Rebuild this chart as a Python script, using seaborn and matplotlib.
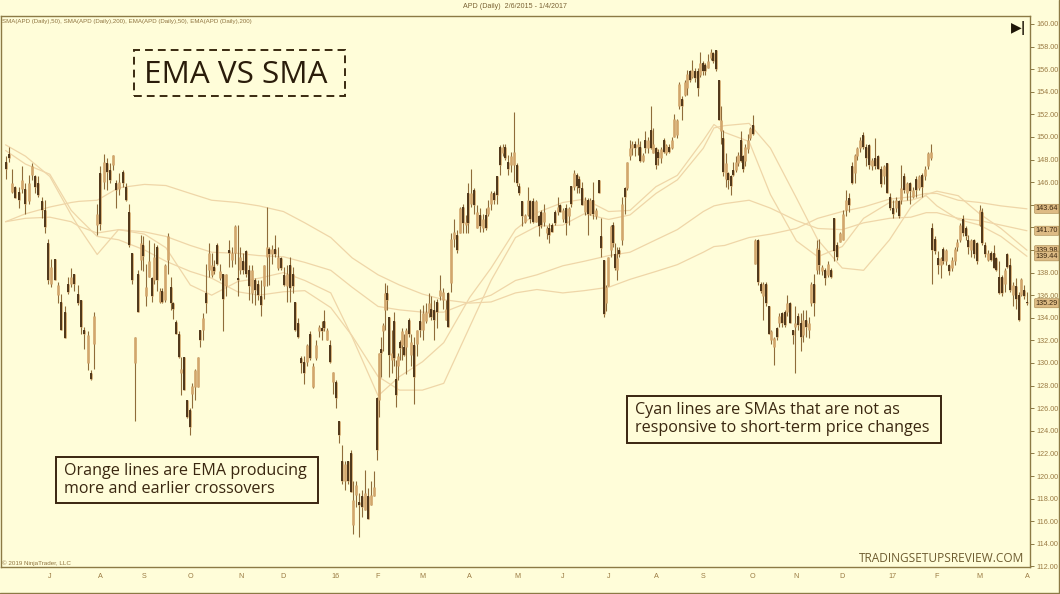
"""APD daily candles with EMA and SMA overlays."""

import matplotlib

matplotlib.use("Agg")

import matplotlib.dates as mdates
import matplotlib.pyplot as plt
import numpy as np
import pandas as pd
import seaborn as sns
from matplotlib.lines import Line2D
from matplotlib.patches import Rectangle

# candles
bar_high = [
    148.3,149.1,147.2,145.7,145.6,147.4,145.9,146.6,147.7,146.6, 146.5,144.7,144.4,141.0,139.2,139.2,137.2,136.1,135.0,137.6,
    138.4,137.9,136.9,135.6,133.2,132.8,129.4,134.5,144.1,147.4, 148.5,148.1,147.7,148.4,146.2,146.8,147.1,145.9,144.1,139.7,
    132.3,138.2,141.3,141.2,138.8,140.9,137.6,140.6,140.4,136.6, 136.6,138.8,141.5,137.6,135.4,133.8,132.8,130.5,130.5,126.7,
    126.0,128.2,129.5,130.5,132.9,134.4,138.8,140.6,
    139.7,139.1,140.6,138.8,137.9,137.9,140.9,140.3,142.2,142.2, 140.3,139.7,140.0,138.7,138.7,137.5,137.3,137.3,138.7,143.8,
    140.3,140.4,141.3,140.3,139.4,138.5,138.7,139.4,138.5,135.4, 134.0,130.6,130.6,131.7,132.8,130.0,132.0,133.4,133.7,134.7,
    133.1,132.0,129.2,128.5,124.9,122.7,121.3,121.3,122.3,119.6, 119.6,118.5,118.8,120.5,118.9,119.6,120.4,127.0,130.9,132.3,
    133.5,137.1,136.9,134.1,132.9,134.5,130.3,130.9,132.0,133.1, 132.6,133.1,134.0,
    132.6,132.3,132.9,134.8,135.1,135.3,136.2,135.9,135.6,135.7, 137.8,136.6,135.6,136.3,141.5,142.7,141.8,143.8,144.1,143.1,
    145.9,147.2,145.5,144.0,143.7,143.2,143.7,144.4,145.2,145.2, 146.5,149.3,149.4,149.4,148.4,148.7,152.2,147.7,145.9,144.3,
    143.2,145.6,144.4,144.6,144.4,143.1,143.5,144.1,142.1,142.4, 142.4,143.5,144.7,144.1,143.7,144.1,143.8,145.7,147.1,146.8,
    146.5,146.0,144.7,144.6,144.6,146.0,143.7,146.2,142.8,139.1, 136.9,139.4,142.2,142.5,140.6,140.3,140.3,
    144.7,145.6,147.8,149.7,149.6,149.6,149.9,149.6,148.6,150.5, 150.0,152.7,150.8,149.1,148.9,149.1,149.9,149.4,149.4,150.0,
    152.0,151.6,154.9,153.6,155.0,155.9,155.9,156.8,156.1,156.1, 157.5,156.7,156.5,157.3,157.8,157.5,157.7,155.0,152.7,150.6,
    148.6,146.9,146.6,147.8,148.3,148.7,150.5,148.4,149.4,150.3, 150.9,151.9,141.0,141.0,137.2,137.2,137.2,135.0,132.9,132.3,
    133.2,134.4,134.5,134.7,136.0,135.4,132.9,135.0,134.4,134.4, 134.7,134.7,134.1,137.2,137.9,140.9,141.0,
    138.7,138.4,139.0,138.4,142.8,140.7,141.6,143.5,145.3,145.0, 147.8,148.5,149.1,150.0,150.4,149.4,149.4,148.1,149.9,148.4,
    147.4,147.5,147.7,145.0,144.4,144.7,144.4,147.5,146.8,146.0, 146.0,145.6,146.5,146.6,146.8,147.4,148.7,149.4,142.4,141.2,
    139.9,139.4,140.3,140.1,138.8,139.4,140.3,141.0,142.4,143.1, 142.1,141.3,141.0,141.0,140.7,144.0,143.7,140.7,140.0,139.9,
    140.4,139.4,139.0,137.8,138.4,139.7,139.3,137.2,137.5,136.3, 137.5,136.9,136.3,
]
bar_low = [
    146.3,147.8,145.0,144.6,143.7,145.0,143.2,144.1,146.2,145.0, 144.7,142.8,141.5,137.0,136.7,137.3,135.3,132.9,132.2,136.1,
    136.7,136.4,135.1,132.6,131.2,129.4,128.5,129.5,141.3,141.8, 145.4,145.3,145.9,147.1,143.7,144.9,145.6,144.3,140.3,137.0,
    124.9,134.5,138.2,138.1,135.0,137.6,135.4,137.0,136.4,135.3, 135.3,135.4,137.9,134.7,133.9,132.6,130.4,127.2,127.6,125.1,
    123.6,126.0,126.7,127.9,131.4,132.0,134.4,137.6,
    137.6,137.9,138.7,137.3,132.8,135.9,138.5,138.5,138.8,135.9, 137.9,137.9,137.6,135.6,135.3,135.1,135.6,134.2,135.7,136.8,
    136.9,138.8,139.4,138.2,138.2,136.8,135.4,135.4,136.2,132.8, 132.2,129.1,128.1,129.7,130.3,127.8,130.3,132.3,132.0,132.8,
    132.0,130.0,127.3,126.0,122.9,119.3,118.8,119.3,118.6,114.9, 117.3,114.6,116.4,117.0,116.2,117.4,118.2,121.4,125.2,128.8,
    131.1,132.9,134.7,128.8,129.1,129.7,126.1,128.5,130.3,130.3, 130.6,129.0,132.3,
    129.7,126.4,130.6,132.3,132.0,133.5,134.1,133.8,132.0,133.1, 135.6,134.8,133.8,133.2,136.3,140.3,139.7,141.5,141.5,141.5,
    141.5,143.8,143.2,141.9,141.6,141.6,141.8,143.0,143.5,144.1, 144.1,146.6,148.3,148.0,146.6,146.9,146.0,145.7,144.9,142.1,
    142.4,143.0,142.4,142.4,142.5,141.2,141.9,142.1,141.0,140.6, 141.6,142.2,143.1,143.4,142.5,141.3,142.2,143.8,145.3,145.0,
    145.0,144.0,143.1,141.3,143.1,142.7,142.7,145.0,139.4,134.1, 134.6,136.8,139.4,140.3,138.2,137.3,139.4,
    140.4,143.2,145.3,148.0,148.4,148.3,148.4,147.8,147.8,148.6, 148.6,148.9,148.6,147.2,147.5,147.7,148.6,148.4,148.6,148.9,
    150.0,149.9,152.5,151.5,153.6,153.7,154.9,155.2,154.9,153.6, 155.3,155.5,155.5,156.1,156.8,156.5,155.8,151.5,149.4,146.5,
    145.6,145.4,144.9,146.5,146.9,147.4,147.8,146.9,147.4,148.6, 149.7,150.2,138.8,136.9,136.2,133.8,135.0,132.6,131.7,129.8,
    132.0,133.2,133.2,133.2,134.2,133.5,131.7,129.1,132.9,131.1, 131.9,132.3,132.2,135.0,134.2,137.9,137.9,
    137.8,136.9,137.6,137.5,139.0,139.1,140.7,140.9,143.0,143.4, 145.8,145.9,148.0,148.7,148.9,147.4,147.2,147.1,147.2,147.2,
    145.6,145.8,145.0,143.5,142.8,143.4,142.8,144.1,145.0,144.4, 144.1,144.6,144.7,145.3,144.7,146.2,147.2,148.0,137.0,139.6,
    137.9,137.5,138.8,138.7,137.8,138.1,138.7,139.9,140.7,141.2, 140.9,139.6,139.4,139.3,138.8,142.1,140.4,139.4,139.0,139.0,
    138.4,138.1,136.1,135.9,136.3,138.4,136.3,135.0,134.8,133.7, 135.9,135.7,135.1,
]
body_top = [
    147.8,148.5,145.9,145.6,145.1,146.2,145.4,145.9,147.4,146.5, 145.9,144.3,143.5,140.6,138.5,139.2,136.9,135.4,134.5,137.0,
    137.6,137.9,136.1,135.6,132.9,132.5,129.1,134.2,143.2,146.8, 147.8,147.7,147.1,148.4,145.9,146.0,146.9,145.6,143.4,139.7,
    132.3,137.9,140.6,140.4,136.7,139.0,137.5,139.4,140.3,136.4, 136.4,138.7,141.2,136.7,135.3,133.6,132.6,129.5,130.5,126.7,
    125.8,128.0,129.4,130.5,132.9,134.0,136.2,139.7,
    138.7,138.5,140.4,138.1,137.9,137.9,140.0,139.7,142.1,137.5, 139.4,139.0,139.9,138.2,138.2,137.3,137.0,135.9,138.7,140.3,
    140.1,140.1,140.1,139.4,139.3,137.8,137.9,138.7,137.9,135.4, 133.5,130.4,130.1,131.6,132.6,129.7,131.6,133.2,133.1,133.7,
    132.9,131.6,129.2,128.3,124.9,121.3,121.1,121.3,122.0,117.9, 119.2,117.7,118.2,118.5,118.2,118.3,119.0,126.9,130.9,131.2,
    133.4,136.2,136.2,134.1,130.9,133.7,128.6,130.6,131.9,132.8, 131.4,132.9,133.8,
    131.9,131.6,132.9,133.7,134.4,134.5,135.3,134.8,134.7,135.4, 136.5,136.3,134.8,136.2,141.0,141.6,141.3,143.7,143.8,142.5,
    145.0,145.0,145.3,143.4,143.1,142.7,143.1,143.8,145.0,145.0, 146.5,149.1,149.1,149.1,147.8,148.3,148.7,147.5,145.7,144.3,
    143.1,144.4,144.3,144.3,144.3,143.0,143.4,143.4,141.9,141.9, 142.2,143.4,143.8,144.0,143.5,143.7,143.7,145.7,146.8,146.6,
    146.3,145.5,144.4,144.4,144.4,144.4,143.5,146.2,141.2,139.1, 136.7,139.4,142.1,142.2,139.6,139.3,140.0,
    144.1,145.5,147.8,149.0,149.4,149.4,149.4,149.1,148.4,149.7, 149.7,150.6,149.4,149.0,148.7,148.9,149.7,149.3,149.1,149.7,
    151.6,151.5,154.7,153.4,154.9,155.6,155.8,155.9,155.8,155.8, 156.5,156.5,156.4,156.7,157.5,157.4,157.7,155.0,151.5,149.9,
    147.7,146.8,146.5,147.1,147.8,148.4,149.7,148.3,149.1,149.7, 150.8,151.1,140.9,140.9,137.0,137.0,137.0,135.0,132.8,132.2,
    133.1,134.2,134.4,134.5,135.3,135.3,132.9,133.5,134.2,133.5, 133.8,133.8,133.5,137.0,137.0,140.2,140.0,
    138.5,138.2,138.8,138.2,142.8,140.4,141.5,143.2,144.4,144.6, 147.4,148.4,149.0,149.7,150.2,149.1,149.3,148.0,148.1,148.3,
    147.2,147.4,147.7,144.7,143.7,144.4,144.3,145.5,146.5,145.9, 145.9,145.3,146.3,146.5,146.6,147.2,148.6,148.7,141.9,141.0,
    139.3,139.3,140.1,140.0,138.7,139.1,140.1,140.7,142.2,142.7, 141.9,140.9,140.9,140.9,140.6,143.5,143.4,140.4,139.7,139.7,
    139.7,139.3,137.6,137.6,138.2,139.6,138.7,136.9,136.8,136.0, 137.4,136.5,135.4,
]
body_bottom = [
    147.2,148.1,145.1,144.6,144.4,145.4,144.1,144.3,146.6,145.6, 144.9,143.5,142.0,137.3,137.0,137.3,136.0,132.9,132.2,136.3,
    137.0,137.0,135.3,133.2,132.6,130.0,128.6,131.7,142.2,142.3, 146.0,146.9,146.2,147.5,145.3,145.4,145.9,144.4,140.4,137.3,
    130.0,134.5,139.1,139.5,135.9,137.6,135.9,137.3,137.3,135.4, 135.4,135.6,139.1,135.3,134.8,132.6,130.5,129.1,127.6,125.2,
    124.3,127.3,127.9,127.9,132.0,132.9,135.3,138.2,
    137.8,138.1,138.8,137.5,135.7,136.8,139.7,139.1,139.7,137.3, 138.2,138.2,137.9,136.8,136.2,136.5,136.0,135.1,136.8,139.4,
    139.6,139.6,139.6,138.4,138.4,136.9,136.8,136.6,136.8,132.9, 132.3,130.0,129.1,130.1,130.4,127.9,130.4,132.8,132.8,133.1,
    132.0,130.1,128.3,126.9,123.6,119.6,119.6,119.6,118.6,115.7, 118.3,117.4,117.3,117.0,116.2,117.4,118.2,122.3,126.7,130.9,
    132.8,134.7,135.6,130.7,130.3,130.4,127.2,129.7,131.3,131.6, 130.7,131.4,132.6,
    130.7,128.8,131.7,132.9,132.9,133.7,134.4,134.1,133.8,134.5, 135.9,135.6,133.8,133.2,137.1,141.0,140.0,141.5,142.4,142.2,
    142.4,144.1,144.0,141.9,142.1,141.9,141.9,143.2,144.1,144.4, 144.9,147.5,148.6,148.1,147.2,147.5,147.5,145.9,145.0,143.0,
    142.5,143.1,142.7,142.5,142.5,142.1,142.2,142.5,141.5,141.3, 141.6,142.4,143.4,143.4,142.7,142.4,143.0,144.1,145.6,145.7,
    145.5,144.0,143.4,143.2,143.2,143.2,143.0,145.0,140.2,134.3, 135.3,136.8,140.0,140.6,138.4,138.2,139.6,
    140.9,144.7,145.5,148.3,149.0,149.0,149.1,147.9,147.9,149.0, 149.0,149.0,148.6,147.5,148.1,148.1,148.7,148.6,148.7,149.0,
    150.0,150.2,152.7,152.7,153.7,154.3,155.0,155.3,155.2,154.3, 155.5,155.8,155.8,156.1,157.0,156.7,156.0,151.5,150.5,146.9,
    146.3,146.2,145.7,146.6,147.1,147.7,147.9,147.2,147.9,148.9, 149.9,150.3,138.8,137.2,136.4,135.9,135.3,132.6,132.0,131.4,
    132.3,133.5,133.5,133.4,134.5,133.5,132.5,133.2,133.4,132.3, 132.5,133.2,132.9,135.3,135.3,138.2,138.7,
    138.1,137.5,137.8,137.6,139.9,139.4,140.7,140.9,143.5,144.0, 145.9,146.8,148.3,149.0,149.1,148.1,147.5,147.4,147.4,147.2,
    145.8,146.5,145.0,143.7,143.2,143.7,143.0,144.4,145.3,145.0, 145.2,144.7,145.3,145.5,145.6,146.5,147.4,148.1,140.0,139.9,
    138.7,138.7,139.0,139.0,138.1,138.4,139.0,140.3,140.9,141.5, 141.2,140.3,140.0,139.6,139.0,142.2,140.6,139.6,139.1,139.1,
    138.4,138.2,136.2,136.2,137.0,138.5,136.5,136.0,135.7,133.8, 136.0,135.9,135.29,
]
# d = falling candle (dark body), u = rising candle (tan body)
bar_direction = """
ddudd uduud ddddu duddd udddd uduud uddud udddd ududu ududu duudd ddudd duuud uduud
dudud uudud ddudd duudu duddu ddddd duduu uddud udddu dduud duduu duduu ddudd ududu
dudud uuudd duuud uudud ududu duduu dddud duudd duudd udduu dddud ududu dddud ududd
duuud dudud uuudu dudud uddud uduuu uduud uddud duudd dudud dduud duuud uddud duudu
ddudd uddud uudud ududd duuud duuud ddudd duddd ududu dudud uuudd dudud uuuud ddudd
uddud ddddu ddudd udd
"""

# bar number -> session date, the session spacing on this chart is not even
anchor_bars = [0, 27, 40, 67, 125, 140, 177, 210, 217, 255, 270, 294, 332, 333, 367]
anchor_dates = [
    "2015-06-02", "2015-07-30", "2015-08-26", "2015-10-13", "2016-01-31",
    "2016-02-21", "2016-04-30", "2016-06-28", "2016-07-08", "2016-09-11",
    "2016-10-05", "2016-11-16", "2017-01-28", "2017-01-29", "2017-04-01",
]

# moving averages, read at these dates
ma_dates = [
    "2015-06-02", "2015-06-15", "2015-07-01", "2015-07-15", "2015-07-20", "2015-08-01", "2015-08-15", "2015-09-01",
    "2015-09-15", "2015-10-01", "2015-10-15", "2015-11-01", "2015-11-15", "2015-12-01", "2015-12-15", "2016-01-01",
    "2016-01-15", "2016-02-01", "2016-02-15", "2016-03-01", "2016-03-15", "2016-04-01", "2016-04-15", "2016-05-01",
    "2016-05-15", "2016-06-01", "2016-06-15", "2016-07-01", "2016-07-15", "2016-08-01", "2016-08-15", "2016-09-01",
    "2016-09-08", "2016-09-15", "2016-10-01", "2016-10-15", "2016-11-01", "2016-11-15", "2016-12-01", "2016-12-15",
    "2017-01-01", "2017-01-15", "2017-01-25", "2017-02-01", "2017-02-15", "2017-03-01", "2017-03-15", "2017-04-01",
]
ema_50 = [
    149.3,148.3,146.5,143.1,142.0,139.6,141.8,141.4,140.2,136.9,136.0,137.2,137.5,138.0,137.3,136.2,
    132.3,127.1,128.8,130.1,131.8,135.8,138.4,141.8,143.3,144.2,144.5,143.4,143.5,145.6,146.6,149.7,
    151.1,150.4,149.6,144.9,140.8,139.4,140.3,142.8,144.2,144.4,144.8,143.9,142.7,142.2,141.2,139.44,
]
sma_50 = [
    148.8,147.6,146.7,143.5,142.8,141.2,140.9,140.0,139.0,138.1,137.5,136.3,136.0,136.3,136.4,134.9,
    132.4,128.8,127.6,127.6,128.2,133.2,137.3,141.1,142.1,142.2,143.2,142.7,143.1,145.0,146.2,149.0,
    150.8,151.0,151.2,149.0,144.6,140.9,138.4,138.2,140.9,143.8,144.9,145.2,144.8,143.2,141.9,139.98,
]
sma_200 = [
    142.5,143.2,143.8,144.2,144.3,144.4,145.5,145.8,145.7,145.0,144.4,144.2,143.9,143.4,142.4,141.1,
    139.3,137.8,136.9,136.1,135.6,135.3,135.4,136.2,136.5,136.2,136.4,136.7,137.4,138.1,138.7,139.8,
    140.3,140.4,141.1,141.4,141.9,142.8,143.4,143.8,144.5,144.7,145.0,145.0,144.4,144.2,143.9,143.64,
]
ema_200 = [
    142.5,142.8,142.9,142.5,142.1,141.5,141.8,141.6,141.2,140.4,139.8,139.7,139.5,139.4,138.9,138.2,
    136.7,135.0,134.7,134.5,134.5,135.4,136.0,137.3,137.8,138.6,139.0,139.5,139.8,140.9,141.8,143.4,
    143.9,144.1,144.4,143.7,142.6,141.9,141.8,142.4,142.8,142.9,143.3,143.3,142.8,142.6,142.2,141.70,
]

month_dates = [
    "2015-07-01", "2015-08-03", "2015-09-01", "2015-10-01", "2015-11-03", "2015-12-01", "2016-01-04", "2016-02-01",
    "2016-03-01", "2016-04-01", "2016-05-02", "2016-06-01", "2016-07-01", "2016-08-01", "2016-09-01", "2016-10-03",
    "2016-11-01", "2016-12-01", "2017-01-03", "2017-02-01", "2017-03-01", "2017-04-01",
]
month_labels = ["J", "A", "S", "O", "N", "D", "16", "F", "M", "A", "M", "J", "J", "A", "S", "O", "N", "D", "17", "F", "M", "A"]
price_ticks = list(range(112, 162, 2))
covered_ticks = [144, 142, 140]  # hidden behind the price tags
last_values = [143.64, 141.70, 139.98, 139.44, 135.29]

PAPER = "#FFFDD9"
FRAME = "#8C7A45"
TICK_TEXT = "#9A7A42"
INK = "#3A2710"
SCALE_FONT = "Liberation Sans"

sns.set_theme(style="white", rc={"figure.facecolor": PAPER, "axes.facecolor": PAPER})
plt.rcParams["font.family"] = ["Open Sans", "DejaVu Sans"]

fig = plt.figure(figsize=(10.6, 5.94), dpi=100)
ax = fig.add_axes([1 / 1060, 27 / 594, 1029 / 1060, 551 / 594])

# moving averages sit behind the candles
ma_table = pd.DataFrame(
    {"date": pd.to_datetime(ma_dates), "SMA50": sma_50, "SMA200": sma_200, "EMA50": ema_50, "EMA200": ema_200}
).melt(id_vars="date", var_name="line", value_name="price")
sns.lineplot(
    data=ma_table, x="date", y="price", hue="line",
    palette=["#EFD6A8"] * 4, linewidth=0.9, legend=False, ax=ax, zorder=1,
)

falling = np.array(list("".join(bar_direction.split()))) == "d"
anchor_nums = mdates.date2num(pd.to_datetime(anchor_dates))
bar_x = np.interp(np.arange(len(bar_high)), anchor_bars, anchor_nums)
top = np.array(body_top)
bottom = np.array(body_bottom)

ax.vlines(bar_x, bar_low, bar_high, color="#8F6C3A", linewidth=0.8, zorder=2)
ax.vlines(bar_x, bottom, top, color="#D2A66C", linewidth=1.9, zorder=3)
ax.vlines(bar_x[falling], bottom[falling], top[falling], color="#38220A", linewidth=1.2, zorder=4)

ax.set_xlim(pd.Timestamp("2015-05-30"), pd.Timestamp("2017-04-03"))
ax.set_ylim(111.95, 160.7)
ax.set_xlabel("")
ax.set_ylabel("")

ax.yaxis.tick_right()
ax.set_yticks(price_ticks)
ax.set_yticklabels(["" if tick in covered_ticks else f"{tick:.2f}" for tick in price_ticks], family=SCALE_FONT)
ax.set_xticks(pd.to_datetime(month_dates))
ax.set_xticklabels(month_labels, family=SCALE_FONT)
ax.tick_params(axis="both", length=3, width=0.7, color=FRAME, labelcolor=TICK_TEXT, labelsize=5.2, pad=1.5)
for spine in ax.spines.values():
    spine.set_color(FRAME)
    spine.set_linewidth(1.0)

# price tags on the scale
for value in last_values:
    ax.annotate(
        f"{value:.2f}", xy=(1.0, value), xycoords=ax.get_yaxis_transform(),
        xytext=(4, 0), textcoords="offset points", va="center", ha="left",
        fontsize=5.2, color=INK, family=SCALE_FONT, annotation_clip=False, zorder=6,
        bbox=dict(boxstyle="round,pad=0.15", facecolor="#DDBB84", edgecolor="#A5844B", linewidth=0.4),
    )

fig.text(515 / 1060, 1 - 6 / 594, "APD (Daily)  2/6/2015 - 1/4/2017", ha="center", va="center",
         fontsize=5.1, color="#7A6234", family=SCALE_FONT)
fig.text(
    2 / 1060, 1 - 22 / 594,
    "SMA(APD (Daily),50), SMA(APD (Daily),200), EMA(APD (Daily),50), EMA(APD (Daily),200)",
    ha="left", va="center", fontsize=4.4, color="#8F7440", family=SCALE_FONT,
)
fig.text(2 / 1060, 1 - 563 / 594, "© 2019 NinjaTrader, LLC", ha="left", va="center", fontsize=4.5,
         color="#8F7440", family=SCALE_FONT)
fig.text(1019 / 1060, 1 - 28 / 594, "▶|", ha="center", va="center", fontsize=10, color="#1E1608",
         family="DejaVu Sans", weight="bold")

# callouts
fig.text(236 / 1060, 1 - 75 / 594, "EMA VS SMA", ha="center", va="center", fontsize=22.6, color="#2A1C0A")
fig.add_artist(Rectangle(
    (134 / 1060, 1 - 96 / 594), 211 / 1060, 46 / 594, transform=fig.transFigure,
    fill=False, edgecolor="#3A2A10", linewidth=1.4, linestyle=(0, (4, 2.6)),
))
fig.add_artist(Rectangle(
    (56 / 1060, 1 - 503 / 594), 262 / 1060, 46 / 594, transform=fig.transFigure,
    facecolor=PAPER, edgecolor="#3A2510", linewidth=1.4, zorder=5,
))
fig.text(64 / 1060, 1 - 480 / 594, "Orange lines are EMA producing\nmore and earlier crossovers",
         ha="left", va="center", fontsize=11.6, color=INK, linespacing=1.2, zorder=6)
fig.add_artist(Rectangle(
    (627 / 1060, 1 - 443 / 594), 314 / 1060, 47 / 594, transform=fig.transFigure,
    facecolor=PAPER, edgecolor="#3A2510", linewidth=1.4, zorder=5,
))
fig.text(635 / 1060, 1 - 419 / 594, "Cyan lines are SMAs that are not as\nresponsive to short-term price changes",
         ha="left", va="center", fontsize=11.6, color=INK, linespacing=1.2, zorder=6)
fig.text(1024 / 1060, 1 - 558 / 594, "TRADINGSETUPSREVIEW.COM", ha="right", va="center", fontsize=8.6, color="#6E5C30")

# right and bottom edge of the chart window
fig.add_artist(Line2D([0, 1059 / 1060, 1059 / 1060], [1 / 594, 1 / 594, 1], color=FRAME, linewidth=1.0))

fig.savefig("out.png", dpi=100, facecolor=PAPER)
